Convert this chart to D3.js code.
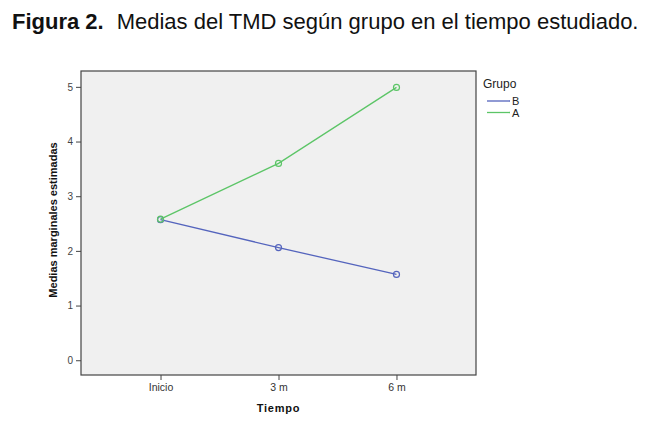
<!DOCTYPE html>
<html>
<head>
<meta charset="utf-8">
<script src="https://cdn.jsdelivr.net/npm/d3@7.9.0/dist/d3.min.js"></script>
<style>
  body { margin: 0; background: #fff; }
  svg { display: block; font-family: "Liberation Sans", Arial, sans-serif; }
</style>
</head>
<body>
<svg id="chart" width="656" height="436"></svg>
<script>
// data
const tiempos = ['Inicio', '3 m', '6 m'];
const grupos = ['B', 'A'];
const valoresB = [2.57, 2.06, 1.57];
const valoresA = [2.58, 3.60, 4.99];
const yTicks = [0, 1, 2, 3, 4, 5];
const colores = ['#5464bd', '#5cc567'];

const svg = d3.select('#chart');

const plot = { left: 81, top: 71, right: 476, bottom: 375 };

let x = d3.scalePoint().domain(tiempos).range([plot.left, plot.right]).padding(0.674);
let y = d3.scaleLinear().domain([-0.27, 5.29]).range([plot.bottom, plot.top]);

// title
let title = svg.append('text').attr('x', 12).attr('y', 29)
  .attr('font-size', 22).attr('fill', '#111');
title.append('tspan').attr('font-weight', 'bold').text('Figura 2.');
title.append('tspan').attr('dx', 13).text('Medias del TMD según grupo en el tiempo estudiado.');

// plot background + frame
svg.append('rect')
  .attr('x', plot.left).attr('y', plot.top)
  .attr('width', plot.right - plot.left).attr('height', plot.bottom - plot.top)
  .attr('fill', '#f0f0f0').attr('stroke', '#444').attr('stroke-width', 1.2);

// y axis
let yAxis = svg.append('g').attr('transform', `translate(${plot.left},0)`)
  .call(d3.axisLeft(y).tickValues(yTicks).tickSize(5).tickPadding(3).tickFormat(d3.format('d')));
yAxis.select('.domain').remove();
yAxis.selectAll('line').attr('stroke', '#444');
yAxis.selectAll('text').attr('font-size', 10).attr('fill', '#444')
  .attr('font-family', '"Liberation Sans", Arial, sans-serif');

// x axis
let xAxis = svg.append('g').attr('transform', `translate(0,${plot.bottom})`)
  .call(d3.axisBottom(x).tickSize(5).tickPadding(4));
xAxis.select('.domain').remove();
xAxis.selectAll('line').attr('stroke', '#444');
xAxis.selectAll('text').attr('font-size', 10.5).attr('fill', '#333')
  .attr('font-family', '"Liberation Sans", Arial, sans-serif');

// axis titles
svg.append('text')
  .attr('transform', `translate(57,220) rotate(-90)`)
  .attr('text-anchor', 'middle').attr('font-weight', 'bold')
  .attr('font-size', 11).attr('fill', '#111')
  .text('Medias marginales estimadas');

svg.append('text')
  .attr('x', x('3 m')).attr('y', 412)
  .attr('text-anchor', 'middle').attr('font-weight', 'bold')
  .attr('font-size', 11).attr('letter-spacing', 0.8).attr('fill', '#111')
  .text('Tiempo');

// lines and markers
const series = [valoresB, valoresA];
const line = d3.line().x((d, i) => x(tiempos[i])).y((d) => y(d));

series.forEach((vals, gi) => {
  svg.append('path')
    .attr('d', line(vals))
    .attr('fill', 'none')
    .attr('stroke', colores[gi])
    .attr('stroke-width', 1.3);
  svg.selectAll(null)
    .data(vals)
    .enter()
    .append('circle')
    .attr('cx', (d, i) => x(tiempos[i]))
    .attr('cy', (d) => y(d))
    .attr('r', 3)
    .attr('fill', 'none')
    .attr('stroke', colores[gi])
    .attr('stroke-width', 1.2);
});

// legend
let legend = svg.append('g').attr('transform', 'translate(483,0)');
legend.append('text').attr('x', 0).attr('y', 88)
  .attr('font-size', 12).attr('fill', '#222').text('Grupo');
grupos.forEach((g, i) => {
  let ly = 101 + i * 11.5;
  legend.append('line')
    .attr('x1', 4).attr('x2', 27).attr('y1', ly).attr('y2', ly)
    .attr('stroke', colores[i]).attr('stroke-width', 1.3);
  legend.append('text').attr('x', 29).attr('y', ly + 4)
    .attr('font-size', 11).attr('fill', '#222').text(g);
});
</script>
</body>
</html>
